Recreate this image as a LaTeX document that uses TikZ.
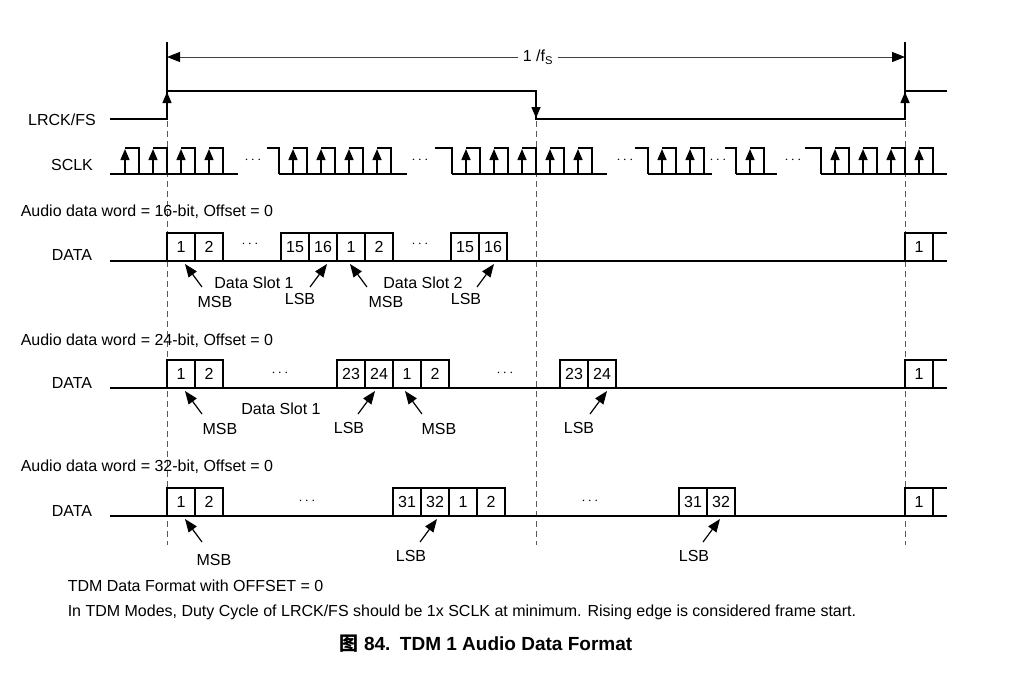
\documentclass[tikz,border=0pt]{standalone}
\usepackage{fontspec}
\setmainfont{Liberation Sans}
\newfontfamily\cjk{Noto Sans CJK SC}
\usetikzlibrary{arrows.meta}
\begin{document}
\begin{tikzpicture}[x=1pt,y=-1pt,line width=1.5pt,
  txt/.style={font=\fontsize{16}{18}\selectfont,inner sep=0pt},
  dots/.style={font=\fontsize{14}{16}\selectfont,inner sep=0pt},
  ptr/.style={line width=1.2pt,-{Triangle[length=13pt,width=10pt]}},
  rise/.style={line width=1.5pt,-{Triangle[length=11pt,width=9pt]}},
  dsh/.style={line width=1pt,gray!70!black,dash pattern=on 6pt off 4pt}]
\useasboundingbox (0,0) rectangle (1035,681);
% dashed guides
\draw[dsh] (167,91) -- (167,545);
\draw[dsh] (536,91) -- (536,545);
\draw[dsh] (905,91) -- (905,545);
\draw[line width=1.2pt] (167,42) -- (167,91);
\draw[line width=1.2pt] (905,42) -- (905,91);
% dimension
\coordinate (dl) at (167,57); \coordinate (dr) at (905,57);
\node[txt,fill=white,inner xsep=4pt] (fs) at (538,57) {1 /f\textsubscript{S}};
\draw[line width=1pt,gray!50!black,{Triangle[length=13pt,width=10pt,black]}-] (dl) -- (fs.west);
\draw[line width=1pt,gray!50!black,-{Triangle[length=13pt,width=10pt,black]}] (fs.east) -- (dr);
% labels
\node[txt] (lrck) at (62,120) {LRCK/FS};
\node[txt] (sclk) at (72,165) {SCLK};
% LRCK
\draw (110,119) -- (167,119) -- (167,91) -- (536,91) -- (536,119) -- (905,119) -- (905,91) -- (947,91);
\draw[rise] (167,119) -- (167,92);
\draw[rise] (536,91) -- (536,118);
\draw[rise] (905,119) -- (905,92);
% SCLK
\foreach \a/\b in {110/238,279/407,452/607,648/712,736/777,821/947} \draw (\a,174) -- (\b,174);
\foreach \a/\b in {267/279,435/452,635/648,725/736,805/821} \draw (\a,148) -- (\b,148) -- (\b,174);
\foreach \r in {125,153,181,209,293,321,349,377,466,494,522,550,578,662,690,750,835,863,891,919}{
  \draw (\r,148) -- (\r+14,148) -- (\r+14,174);
  \draw[rise] (\r,174) -- (\r,149);}
\foreach \x in {253,420,625,718,793} \node[dots] at (\x,160) {$\cdots$};
% row texts
\node[txt,anchor=west] (h1) at (20,212) {Audio data word = 16-bit, Offset = 0};
\node[txt,anchor=west] (h2) at (20,341) {Audio data word = 24-bit, Offset = 0};
\node[txt,anchor=west] (h3) at (20,467) {Audio data word = 32-bit, Offset = 0};
\node[txt] (d1) at (72,255) {DATA};
\node[txt] (d2) at (72,383) {DATA};
\node[txt] (d3) at (72,511) {DATA};
% data rows: baseline, boxes
\foreach \y/\list in {261/{167/1,195/2,281/15,309/16,337/1,365/2,451/15,479/16},
                     388/{167/1,195/2,337/23,365/24,393/1,421/2,560/23,588/24},
                     516/{167/1,195/2,393/31,421/32,449/1,477/2,679/31,707/32}}{
  \draw (110,\y) -- (947,\y);
  \foreach \x/\t in \list {
    \draw (\x,\y) rectangle (\x+28,\y-28);
    \node[txt] at (\x+14,\y-14) {\t};}
  \draw (905,\y) -- (905,\y-28) -- (947,\y-28);
  \draw (933,\y) -- (933,\y-28);
  \node[txt] at (919,\y-14) {1};
}
\foreach \x/\y in {250/244,420/244,280/373,505/373,307/501,590/501} \node[dots] at (\x,\y) {$\cdots$};
% row 1 annotations
\node[txt] (m1) at (215,302) {MSB};
\node[txt] (s1) at (254,283) {Data Slot 1};
\node[txt] (l1) at (300,299) {LSB};
\node[txt] (m2) at (386,302) {MSB};
\node[txt] (s2) at (423,283) {Data Slot 2};
\node[txt] (l2) at (466,299) {LSB};
\draw[ptr] (202,287) -- (185,264);
\draw[ptr] (310,287) -- (327,264);
\draw[ptr] (367,287) -- (350,264);
\draw[ptr] (477,287) -- (494,264);
% row 2
\node[txt] (m3) at (220,429) {MSB};
\node[txt] (s3) at (281,409) {Data Slot 1};
\node[txt] (l3) at (349,428) {LSB};
\node[txt] (m4) at (439,429) {MSB};
\node[txt] (l4) at (579,428) {LSB};
\draw[ptr] (202,414) -- (185,391);
\draw[ptr] (358,414) -- (375,391);
\draw[ptr] (422,414) -- (405,391);
\draw[ptr] (590,414) -- (607,391);
% row 3
\node[txt] (m5) at (214,560) {MSB};
\node[txt] (l5) at (411,556) {LSB};
\node[txt] (l6) at (694,556) {LSB};
\draw[ptr] (202,542) -- (185,519);
\draw[ptr] (420,542) -- (437,519);
\draw[ptr] (703,542) -- (720,519);
% notes
\node[txt,anchor=west] (n1) at (67,586) {TDM Data Format with OFFSET = 0};
\node[txt,anchor=west] (n2) at (67,612) {In TDM Modes, Duty Cycle of LRCK/FS should be 1x SCLK at minimum. Rising edge is considered frame start.};
\node[inner sep=0pt,font=\fontsize{19}{21}\selectfont\bfseries] (cap) at (486,644) {{\cjk 图} 84.\enspace TDM 1 Audio Data Format};
\end{tikzpicture}
\end{document}
